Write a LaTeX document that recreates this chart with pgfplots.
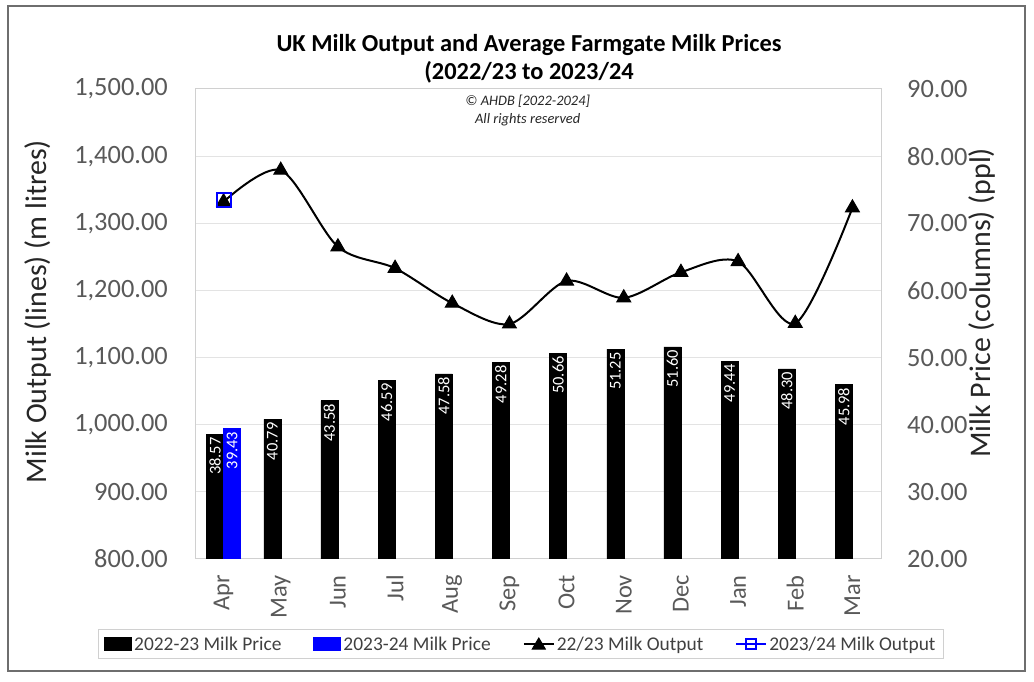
\documentclass[border=0pt]{standalone}
\usepackage{pgfplots}
\pgfplotsset{compat=1.18}
\usepackage{fontspec}
\setmainfont{Carlito}
\definecolor{ticktxt}{HTML}{595959}
\definecolor{labtxt}{HTML}{262626}
\definecolor{gridc}{HTML}{E3E3E3}
\definecolor{framec}{HTML}{D0D0D0}
\definecolor{legtxt}{HTML}{404040}
\definecolor{outer}{HTML}{6E6E6E}

\pgfplotstableread{
x price
0 38.57
1 40.79
2 43.58
3 46.59
4 47.58
5 49.28
6 50.66
7 51.25
8 51.60
9 49.44
10 48.30
11 45.98
}\priceA

\pgfplotstableread{
x price
0 39.43
}\priceB

\pgfplotstableread{
x output
0 1332
1 1379
2 1265
3 1233
4 1181
5 1150
6 1214
7 1189
8 1227
9 1243
10 1151
11 1323
}\outA

\pgfplotstableread{
x output
0 1334
}\outB

\begin{document}
\begin{tikzpicture}[x=1bp,y=1bp]
\path[use as bounding box] (0,0) rectangle (1034,682);
\fill[white] (0,0) rectangle (1034,682);
\draw[color=outer, line width=1.5bp] (8,11) rectangle (1025,676);

\node[font=\bfseries\fontsize{24.5}{28}\selectfont, align=center, text=black] at (529,623)
  {UK Milk Output and Average Farmgate Milk Prices\\(2022/23 to 2023/24};

\begin{axis}[
  at={(195bp,123bp)}, anchor=south west,
  scale only axis, width=686bp, height=470bp,
  xmin=-0.5, xmax=11.5, ymin=20, ymax=90,
  xtick={0,...,11},
  xticklabels={Apr,May,Jun,Jul,Aug,Sep,Oct,Nov,Dec,Jan,Feb,Mar},
  ytick={20,30,...,90},
  ytick pos=right, yticklabel pos=right,
  xtick pos=bottom,
  major tick length=0pt,
  ymajorgrids, grid style={gridc, line width=1bp},
  axis line style={draw=framec, line width=1bp},
  ybar=0pt, bar width=17bp,
  yticklabel shift=26bp,
  xticklabel shift=16bp,
  yticklabel style={font=\fontsize{26.5}{26.5}\selectfont, text=ticktxt, anchor=west, inner sep=0pt,
    /pgf/number format/.cd, fixed, zerofill, precision=2, assume math mode=true},
  xticklabel style={font=\fontsize{24.5}{24.5}\selectfont, text=ticktxt, rotate=90, anchor=east, inner sep=0pt},
  ylabel={Milk Price (columns) (ppl)},
  every axis y label/.style={at={(axis description cs:1.147,0.545)}, anchor=center, rotate=90,
    font=\fontsize{30}{30}\selectfont, text=labtxt},
  nodes near coords={\pgfmathprintnumber[fixed,zerofill,precision=2,assume math mode=true]{\pgfplotspointmeta}},
  every node near coord/.append style={rotate=90, anchor=east, font=\fontsize{16.5}{16.5}\selectfont, text=white, inner sep=3bp},
]
\addplot[fill=black, draw=black] table[x=x, y=price] {\priceA};
\addplot[fill=blue, draw=blue] table[x=x, y=price] {\priceB};
\end{axis}

\begin{axis}[
  at={(195bp,123bp)}, anchor=south west,
  scale only axis, width=686bp, height=470bp,
  xmin=-0.5, xmax=11.5, ymin=800, ymax=1500,
  xtick=\empty,
  ytick={800,900,...,1500},
  ytick pos=left, yticklabel pos=left,
  major tick length=0pt,
  axis line style={draw=none},
  scaled y ticks=false,
  yticklabel shift=27bp,
  yticklabel style={font=\fontsize{26.5}{26.5}\selectfont, text=ticktxt, anchor=east, inner sep=0pt,
    /pgf/number format/.cd, fixed, zerofill, precision=2, 1000 sep={,}, assume math mode=true},
  ylabel={Milk Output (lines) (m litres)},
  every axis y label/.style={at={(axis description cs:-0.229,0.526)}, anchor=center, rotate=90,
    font=\fontsize{30}{30}\selectfont, text=labtxt},
  legend columns=4,
  legend style={at={(axis description cs:0.475,-0.181)}, anchor=center,
    draw=framec, line width=1bp, font=\fontsize{19.5}{19.5}\selectfont, text=legtxt,
    inner xsep=6bp, inner ysep=5bp,
    /tikz/every even column/.append style={column sep=30bp}},
  clip=false,
]
\addlegendimage{legend image code/.code={\fill[black] (0bp,-6.5bp) rectangle (27bp,6.5bp);}}
\addlegendentry{2022-23 Milk Price}
\addlegendimage{legend image code/.code={\fill[blue] (0bp,-6.5bp) rectangle (27bp,6.5bp);}}
\addlegendentry{2023-24 Milk Price}
\addlegendimage{legend image code/.code={\draw[black, line width=2bp] (0bp,0bp) -- (30bp,0bp);
  \fill[black] (15bp,6bp) -- (8.5bp,-5bp) -- (21.5bp,-5bp) -- cycle;}}
\addlegendentry{22/23 Milk Output}
\addlegendimage{legend image code/.code={\draw[blue, line width=2bp] (0bp,0bp) -- (30bp,0bp);
  \draw[blue, line width=2bp] (10bp,-5bp) rectangle (20bp,5bp);}}
\addlegendentry{2023/24 Milk Output}

\addplot[forget plot, black, line width=2bp, smooth, tension=0.5,
  mark=triangle*, mark size=8bp, mark options={solid, fill=black, line width=1bp}]
  table[x=x, y=output] {\outA};
\addplot[forget plot, blue, line width=2bp, mark=square, mark size=7bp, mark options={solid}]
  table[x=x, y=output] {\outB};

\node[font=\itshape\fontsize{14.5}{18}\selectfont, align=center, text=labtxt] at (axis description cs:0.485,0.955)
  {© AHDB [2022-2024]\\All rights reserved};
\end{axis}
\end{tikzpicture}
\end{document}
